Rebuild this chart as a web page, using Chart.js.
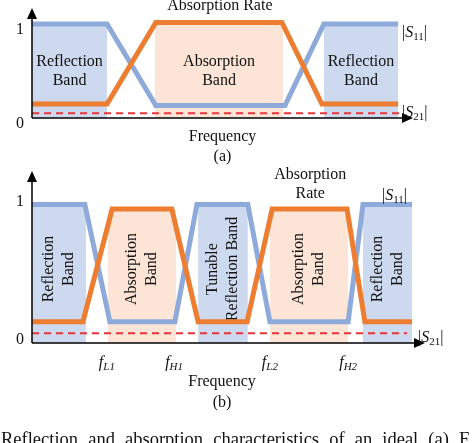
<!DOCTYPE html>
<html>
<head>
<meta charset="utf-8">
<script src="https://cdn.jsdelivr.net/npm/chart.js@4.4.1/dist/chart.umd.min.js"></script>
<style>
  html, body { margin: 0; padding: 0; background: #fff; }
  body { width: 474px; height: 443px; position: relative; overflow: hidden; }
  #chartA { position: absolute; left: 0; top: 0; }
  #chartB { position: absolute; left: 0; top: 160px; }
  .caption {
    position: absolute; left: 1px; top: 429px;
    font-family: 'Liberation Serif', 'Times New Roman', serif; font-size: 18.5px;
    line-height: 20px; white-space: nowrap; word-spacing: 5.5px; color: #111;
  }
</style>
</head>
<body>
<canvas id="chartA" width="474" height="170"></canvas>
<canvas id="chartB" width="474" height="283"></canvas>
<div class="caption">Reflection and absorption characteristics of an ideal (a) F</div>
<script>
// (a) single absorption band  (frequency in arbitrary units 0..100)
const freqA_S11 = [0, 19.7, 32.5, 66.4, 76.6, 96.1];
const s11A = [1, 1, 0.133, 0.133, 1, 1];
const freqA_Rate = [0, 19.7, 32.5, 65.6, 76.1, 96.1];
const rateA = [0.149, 0.149, 1.016, 1.016, 0.149, 0.149];
const freqA_S21 = [0, 97];
const s21A = [0.05, 0.05];
const bandFromA = [0, 32.3, 76.6];
const bandToA = [19.7, 65.9, 96.1];
const bandTypeA = ['reflection', 'absorption', 'reflection'];
const bandTextA = [['Reflection', 'Band'], ['Absorption', 'Band'], ['Reflection', 'Band']];

// (b) two absorption bands with a tunable reflection band between them
const freqB_S11 = [0, 13.9, 20.5, 37.6, 43.4, 56.8, 62.6, 83.2, 87.1, 100];
const s11B = [1, 1, 0.154, 0.154, 1, 1, 0.154, 0.154, 1, 1];
const freqB_Rate = [0, 13.4, 21.1, 36.8, 43.7, 56.6, 63.2, 82.9, 87.6, 100];
const rateB = [0.154, 0.154, 0.967, 0.967, 0.154, 0.154, 0.967, 0.967, 0.154, 0.154];
const freqB_S21 = [0, 98.7];
const s21B = [0.07, 0.07];
const bandFromB = [0, 20.0, 43.7, 62.6, 87.1];
const bandToB = [14.2, 37.9, 56.8, 83.2, 100];
const bandTypeB = ['reflection', 'absorption', 'reflection', 'absorption', 'reflection'];
const bandTextB = [['Reflection', 'Band'], ['Absorption', 'Band'], ['Tunable', 'Reflection Band'], ['Absorption', 'Band'], ['Reflection', 'Band']];
const edgeFreqB = [19.7, 37.4, 62.6, 83.2];
const edgeLabelsB = ['L1', 'H1', 'L2', 'H2'];

const yTicks = [0, 1];
const yTickLabels = ['0', '1'];

const FAMILY = "'Liberation Serif', 'Times New Roman', serif";
const BLUE = '#8eaadb', BLUE_FILL = '#cdd9ef';
const ORANGE = '#ed7d31', ORANGE_FILL = '#fce4d6';
const RED = '#e8343a';

Chart.defaults.font.family = FAMILY;
Chart.defaults.font.size = 16;
Chart.defaults.color = '#000';

const toPoints = (xs, ys) => xs.map((x, i) => ({ x: x, y: ys[i] }));

const S11 = [{ t: '|' }, { t: 'S', italic: true }, { t: '11', sub: true }, { t: '|' }];
const S21 = [{ t: '|' }, { t: 'S', italic: true }, { t: '21', sub: true }, { t: '|' }];

function drawRich(ctx, parts, x, y, align) {
  const fontOf = p => (p.italic ? 'italic ' : '') + (p.sub ? 11 : 16) + 'px ' + FAMILY;
  let w = 0;
  parts.forEach(p => { ctx.font = fontOf(p); w += ctx.measureText(p.t).width; });
  let cx = align === 'center' ? x - w / 2 : x;
  ctx.textAlign = 'left';
  ctx.textBaseline = 'middle';
  parts.forEach(p => {
    ctx.font = fontOf(p);
    ctx.fillText(p.t, cx, y + (p.sub ? 4 : 0));
    cx += ctx.measureText(p.t).width;
  });
}

function schematicPlugin(cfg) {
  return {
    id: 'schematic',
    beforeDatasetsDraw(chart) { chart.$bands = 0; },
    afterDatasetDraw(chart, args) {
      if (!chart.data.datasets[args.index].isBand) return;
      chart.$bands++;
      if (chart.$bands !== cfg.bandFrom.length) return;
      // band names sit on the fills, under the curves
      const { ctx, scales: { x, y } } = chart;
      ctx.save();
      ctx.fillStyle = '#111';
      ctx.font = '16px ' + FAMILY;
      ctx.textAlign = 'center';
      ctx.textBaseline = 'middle';
      cfg.bandText.forEach((lines, i) => {
        const px = x.getPixelForValue((cfg.bandFrom[i] + cfg.bandTo[i]) / 2);
        const py = y.getPixelForValue(cfg.bandTextY);
        ctx.save();
        ctx.translate(px, py);
        if (cfg.rotateText) ctx.rotate(-Math.PI / 2);
        lines.forEach((s, k) => ctx.fillText(s, 0, (k - (lines.length - 1) / 2) * cfg.lineGap));
        ctx.restore();
      });
      ctx.restore();
    },
    afterDraw(chart) {
      const { ctx, chartArea: { left, right, top, bottom }, scales: { x, y } } = chart;
      ctx.save();
      ctx.strokeStyle = '#000';
      ctx.fillStyle = '#000';
      ctx.lineWidth = 1.5;
      const ah = 11, aw = 5;
      ctx.beginPath(); ctx.moveTo(left, bottom); ctx.lineTo(left, top + ah); ctx.stroke();
      ctx.beginPath(); ctx.moveTo(left, top); ctx.lineTo(left - aw, top + ah); ctx.lineTo(left + aw, top + ah); ctx.closePath(); ctx.fill();
      const tip = right + cfg.arrowExtra;
      ctx.beginPath(); ctx.moveTo(left, bottom); ctx.lineTo(tip - ah, bottom); ctx.stroke();
      ctx.beginPath(); ctx.moveTo(tip, bottom); ctx.lineTo(tip - ah, bottom - aw); ctx.lineTo(tip - ah, bottom + aw); ctx.closePath(); ctx.fill();

      ctx.fillStyle = '#111';
      cfg.notes.forEach(n => drawRich(ctx, n.parts, x.getPixelForValue(n.x), y.getPixelForValue(n.y), n.align));
      (cfg.edges || []).forEach((v, i) => {
        drawRich(ctx, [{ t: 'f', italic: true }, { t: cfg.edgeLabels[i], italic: true, sub: true }],
          x.getPixelForValue(v), bottom + 20, 'center');
      });
      ctx.restore();
    }
  };
}

function buildChart(id, cfg) {
  const bands = cfg.bandFrom.map((from, i) => {
    const refl = cfg.bandType[i] === 'reflection';
    const level = refl ? Math.max(...cfg.s11) : Math.max(...cfg.rate);
    return {
      isBand: true,
      data: [{ x: from, y: level }, { x: cfg.bandTo[i], y: level }],
      backgroundColor: refl ? BLUE_FILL : ORANGE_FILL,
      borderWidth: 0,
      fill: 'origin',
      pointRadius: 0,
      order: 10
    };
  });
  const curves = [
    { data: toPoints(cfg.freqRate, cfg.rate), borderColor: ORANGE, borderWidth: 5, order: 0 },
    { data: toPoints(cfg.freqS11, cfg.s11), borderColor: BLUE, borderWidth: 5, order: 1 },
    { data: toPoints(cfg.freqS21, cfg.s21), borderColor: RED, borderWidth: 2, borderDash: [7, 5], order: 2 }
  ].map(d => Object.assign({ fill: false, pointRadius: 0, borderJoinStyle: 'miter', tension: 0 }, d));

  return new Chart(document.getElementById(id), {
    type: 'line',
    data: { datasets: curves.concat(bands) },
    options: {
      responsive: false,
      animation: false,
      layout: { padding: cfg.padding },
      plugins: {
        legend: { display: false },
        tooltip: { enabled: false },
        title: {
          display: true, text: cfg.caption, position: 'bottom', fullSize: false, padding: 0,
          font: { size: 16, weight: 'normal' }, color: '#111'
        }
      },
      scales: {
        x: {
          type: 'linear', min: 0, max: 100,
          grid: { display: false, drawTicks: false },
          border: { display: false },
          ticks: { display: false },
          title: { display: true, text: 'Frequency', color: '#111', font: { size: 16 }, padding: { top: 0, bottom: cfg.freqPad } },
          afterFit: s => { s.height = cfg.xAxisHeight; s.paddingLeft = 0; s.paddingRight = 0; }
        },
        y: {
          min: 0, max: cfg.yMax,
          afterBuildTicks: s => { s.ticks = yTicks.map(v => ({ value: v })); },
          grid: { display: false, drawTicks: false },
          border: { display: false },
          ticks: {
            padding: 8, labelOffset: cfg.tickShift, color: '#111', font: { size: 16 },
            callback: v => yTickLabels[yTicks.indexOf(v)]
          },
          afterFit: s => { s.width = 32; s.paddingTop = 0; s.paddingBottom = 0; }
        }
      }
    },
    plugins: [schematicPlugin(cfg)]
  });
}

buildChart('chartA', {
  freqS11: freqA_S11, s11: s11A, freqRate: freqA_Rate, rate: rateA, freqS21: freqA_S21, s21: s21A,
  bandFrom: bandFromA, bandTo: bandToA, bandType: bandTypeA, bandText: bandTextA,
  bandTextY: 0.495, rotateText: false, lineGap: 19,
  caption: '(a)', yMax: 1.17, tickShift: 6, arrowExtra: 0,
  padding: { top: 8, left: 0, right: 61, bottom: 3.4 }, xAxisHeight: 29.4, freqPad: 0.8,
  notes: [
    { parts: [{ t: 'Absorption Rate' }], x: 49.3, y: 1.19, align: 'center' },
    { parts: S11, x: 97.1, y: 0.904, align: 'left' },
    { parts: S21, x: 97.1, y: 0.053, align: 'left' }
  ]
});

buildChart('chartB', {
  freqS11: freqB_S11, s11: s11B, freqRate: freqB_Rate, rate: rateB, freqS21: freqB_S21, s21: s21B,
  bandFrom: bandFromB, bandTo: bandToB, bandType: bandTypeB, bandText: bandTextB,
  bandTextY: 0.534, rotateText: true, lineGap: 20,
  caption: '(b)', yMax: 1.242, tickShift: -3, arrowExtra: 13,
  padding: { top: 11, left: 0, right: 62, bottom: 30.4 }, xAxisHeight: 50.4, freqPad: 1.8,
  edges: edgeFreqB, edgeLabels: edgeLabelsB,
  notes: [
    { parts: [{ t: 'Absorption' }], x: 73.2, y: 1.213, align: 'center' },
    { parts: [{ t: 'Rate' }], x: 73.2, y: 1.076, align: 'center' },
    { parts: S11, x: 92.1, y: 1.061, align: 'left' },
    { parts: S21, x: 101.6, y: 0.036, align: 'left' }
  ]
});
</script>
</body>
</html>
